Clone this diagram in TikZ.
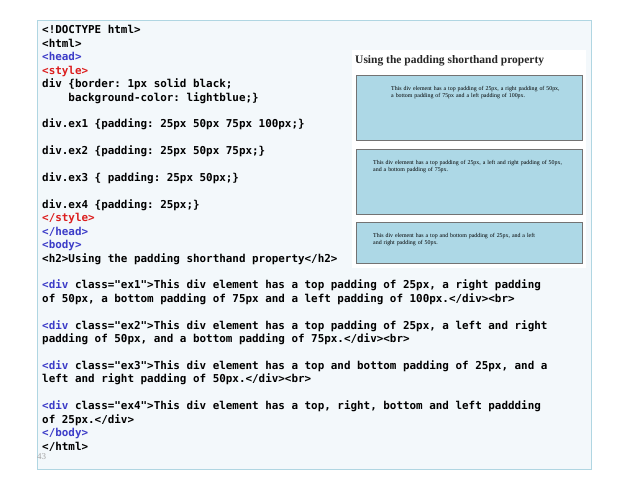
\documentclass[tikz,border=0pt]{standalone}
\usepackage{fontspec}
\setmonofont{DejaVu Sans Mono}
\newfontfamily\serifsmall{Liberation Serif}
\definecolor{tagblue}{RGB}{60,60,200}
\definecolor{tagred}{RGB}{220,30,30}
\definecolor{framebg}{RGB}{243,248,251}
\definecolor{frameline}{RGB}{176,214,226}
\definecolor{ltblue}{RGB}{173,216,230}
\newcommand{\cblue}[1]{\textcolor{tagblue}{#1}}
\newcommand{\cred}[1]{\textcolor{tagred}{#1}}
\begin{document}
\begin{tikzpicture}[x=1pt,y=-1pt,
  code/.style={anchor=base west,inner sep=0pt,font=\ttfamily\bfseries\fontsize{10.9}{13}\selectfont},
  divbox/.style={draw=gray!90!black,fill=ltblue,line width=0.8pt},
  tiny/.style={anchor=north west,inner sep=0pt,align=left,font=\serifsmall\fontsize{5.9}{7}\selectfont}]
\useasboundingbox (0,0) rectangle (638,478);
\fill[white] (0,0) rectangle (638,478);
\draw[frameline,fill=framebg,line width=1pt] (37,21) rectangle (591,470);
\def\L#1#2{\node[code] (l#1) at (42,{34+(#1-1)*13.42}) {#2};}
\L{1}{<!DOCTYPE html>}
\L{2}{<html>}
\L{3}{\cblue{<head>}}
\L{4}{\cred{<style>}}
\L{5}{div \{border: 1px solid black;}
\L{6}{\ \ \ \ background-color: lightblue;\}}
\L{8}{div.ex1 \{padding: 25px 50px 75px 100px;\}}
\L{10}{div.ex2 \{padding: 25px 50px 75px;\}}
\L{12}{div.ex3 \{ padding: 25px 50px;\}}
\L{14}{div.ex4 \{padding: 25px;\}}
\L{15}{\cred{</style>}}
\L{16}{\cblue{</head>}}
\L{17}{\cblue{<body>}}
\L{18}{<h2>Using the padding shorthand property</h2>}
\L{20}{\cblue{<div} class="ex1">This div element has a top padding of 25px, a right padding}
\L{21}{of 50px, a bottom padding of 75px and a left padding of 100px.</div><br>}
\L{23}{\cblue{<div} class="ex2">This div element has a top padding of 25px, a left and right}
\L{24}{padding of 50px, and a bottom padding of 75px.</div><br>}
\L{26}{\cblue{<div} class="ex3">This div element has a top and bottom padding of 25px, and a}
\L{27}{left and right padding of 50px.</div><br>}
\L{29}{\cblue{<div} class="ex4">This div element has a top, right, bottom and left paddding}
\L{30}{of 25px.</div>}
\L{31}{\cblue{</body>}}
\L{32}{</html>}
\node[anchor=base west,inner sep=0pt,text=gray!70,font=\serifsmall\fontsize{9}{10}\selectfont] (pg) at (37,460) {43};
% inset
\fill[white] (352,50) rectangle (586,268);
\node[anchor=base west,inner sep=0pt,font=\serifsmall\bfseries\fontsize{11.5}{13}\selectfont,text=black!85] (h2) at (355,64) {Using the padding shorthand property};
\draw[divbox] (356,75) rectangle (582,140);
\draw[divbox] (356,149) rectangle (582,214);
\draw[divbox] (356,222) rectangle (582,263);
\node[tiny,text width=170pt] (t1) at (391,86) {This div element has a top padding of 25px, a right padding of 50px, a bottom padding of 75px and a left padding of 100px.};
\node[tiny,text width=190pt] (t2) at (373,160) {This div element has a top padding of 25px, a left and right padding of 50px, and a bottom padding of 75px.};
\node[tiny,text width=172pt] (t3) at (373,233) {This div element has a top and bottom padding of 25px, and a left and right padding of 50px.};
\end{tikzpicture}
\end{document}
